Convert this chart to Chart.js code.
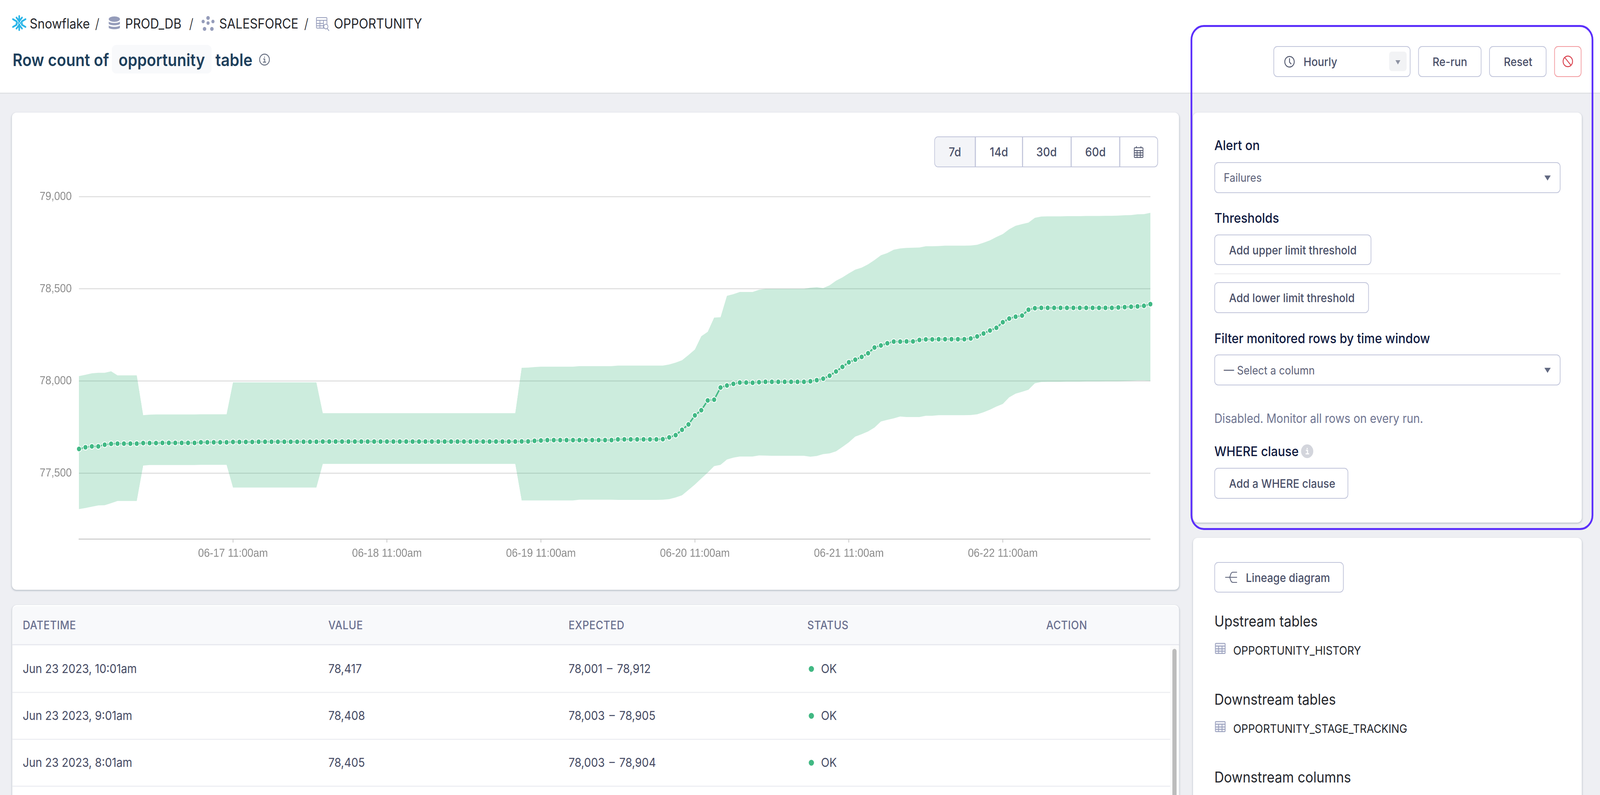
<!DOCTYPE html>
<html><head><meta charset="utf-8">
<script src="https://cdn.jsdelivr.net/npm/chart.js@4"></script>
<style>
html,body{margin:0;padding:0;width:100%;height:100%;overflow:hidden;background:#eeeff3;font-family:Inter,sans-serif;}
#page{position:absolute;left:0;top:0;width:4576px;height:2034px;overflow:hidden;transform-origin:0 0;background:#eeeff3;}
.a{position:absolute;box-sizing:border-box;}
.t{position:absolute;white-space:nowrap;transform:translateY(-50%);line-height:1.2;}
.btn{position:absolute;box-sizing:border-box;background:#fff;border:2.5px solid #c0c4da;border-radius:11px;}
.bc{font-size:35px;color:#25262b;}
.lab{font-size:34.5px;font-weight:500;color:#101a3f;}
.bt{font-size:30.3px;font-weight:500;color:#4a5069;}
.sel{font-size:29.5px;color:#5c6178;}
.h{font-size:38.2px;color:#24262c;}
.up{font-size:30.4px;color:#24262c;}
.th{font-size:29.5px;font-weight:500;color:#6a7090;letter-spacing:.6px;}
.td{font-size:31.5px;color:#454a63;}
.card{position:absolute;box-sizing:border-box;background:#fff;border-radius:13px;box-shadow:0 2px 5px rgba(60,80,100,.35);}
.tri{position:absolute;width:0;height:0;border-left:9px solid transparent;border-right:9px solid transparent;border-top:13px solid #636a82;}
svg{position:absolute;overflow:visible;}
</style></head><body><div id="page">
<!-- header -->
<div class="a" style="left:0;top:0;width:4576px;height:240px;background:#fff;border-bottom:3px solid #e1e2e5;"></div>
<svg style="left:34px;top:38px" width="42" height="42" viewBox="0 0 42 42" fill="none" stroke="#29b5e8" stroke-width="4.5" stroke-linecap="round"><path d="M21 3V15M13 7l8 9 8-9M21 39V27M13 35l8-9 8 9M3 11l11 6-1 7M39 11l-11 6 1 7M3 31l11-6M39 31l-11-6"/><path d="M21 17l4 4-4 4-4-4z" stroke-width="2.5"/></svg>
<div class="t bc" style="left:85px;top:60px">Snowflake</div>
<div class="t bc" style="left:272px;top:60px;font-weight:300">/</div>
<svg style="left:311px;top:42px" width="32" height="36" viewBox="0 0 32 36" fill="#959cba"><ellipse cx="16" cy="7" rx="16" ry="7"/><path d="M0 13c4 5 28 5 32 0v6c-4 5-28 5-32 0zM0 23c4 5 28 5 32 0v6c-4 5-28 5-32 0z"/></svg>
<div class="t bc" style="left:358px;top:60px">PROD_DB</div>
<div class="t bc" style="left:541px;top:60px;font-weight:300">/</div>
<svg style="left:576px;top:40px" width="38" height="40" viewBox="0 0 38 40" fill="#959cba"><circle cx="19" cy="6" r="5"/><circle cx="5" cy="15" r="4.5"/><circle cx="33" cy="15" r="4.5"/><circle cx="19" cy="19" r="4.5"/><circle cx="9" cy="34" r="5"/><circle cx="30" cy="34" r="5"/></svg>
<div class="t bc" style="left:627px;top:60px">SALESFORCE</div>
<div class="t bc" style="left:870px;top:60px;font-weight:300">/</div>
<svg style="left:904px;top:44px" width="40" height="36" viewBox="0 0 40 36" fill="none" stroke="#959cba" stroke-width="2"><rect x="1" y="1" width="30" height="27" rx="2"/><path d="M1 8H31M1 16H22M1 22H22M11 8V28M21 8V28"/><circle cx="28" cy="24" r="6" fill="#fff"/><path d="M32 29l5 6"/></svg>
<div class="t bc" style="left:955px;top:60px">OPPORTUNITY</div>
<div class="a" style="left:320px;top:115px;width:285px;height:73px;background:#f8f9fb;border-radius:12px;"></div>
<div class="t" style="left:36px;top:153px;font-size:43.5px;font-weight:600;color:#1d3f5c">Row count of</div>
<div class="t" style="left:339px;top:153px;font-size:43.5px;font-weight:600;color:#1d3f5c">opportunity</div>
<div class="t" style="left:616px;top:153px;font-size:44px;font-weight:600;color:#1d3f5c">table</div>
<svg style="left:741px;top:137px" width="31" height="31" viewBox="0 0 31 31" fill="none" stroke="#6a7284" stroke-width="2.5"><circle cx="15.5" cy="15.5" r="14"/><path d="M12 14h4v8M11 22h9M15.5 8v2.5"/></svg>

<!-- header controls -->
<div class="btn" style="left:3642px;top:118px;width:392px;height:79px;"></div>
<svg style="left:3673px;top:143px" width="30" height="30" viewBox="0 0 30 30" fill="none" stroke="#545a70" stroke-width="2.5"><circle cx="15" cy="15" r="13.5"/><path d="M15 6v10l5 5"/></svg>
<div class="t bt" style="left:3728px;top:158px;">Hourly</div>
<div class="a" style="left:3973px;top:132px;width:50px;height:50px;background:#f2f3f5;border-radius:8px;"></div>
<div class="tri" style="left:3991px;top:154px;border-left-width:7px;border-right-width:7px;border-top:11px solid #8d92a2"></div>
<div class="btn" style="left:4056px;top:118px;width:181px;height:79px;"></div>
<div class="t bt" style="left:4097px;top:158px;">Re-run</div>
<div class="btn" style="left:4259px;top:118px;width:164px;height:79px;"></div>
<div class="t bt" style="left:4301px;top:158px;">Reset</div>
<div class="btn" style="left:4445px;top:118px;width:78px;height:79px;border-color:#f29a9f"></div>
<svg style="left:4469px;top:142px" width="30" height="30" viewBox="0 0 30 30" fill="none" stroke="#d9414d" stroke-width="2.5"><circle cx="15" cy="15" r="13.5"/><path d="M6 5l18 20"/></svg>

<!-- chart card -->
<div class="card" style="left:34px;top:288px;width:3338px;height:1221px;"></div>
<div class="a" style="left:34px;top:460px;width:3338px;height:1040px;"><canvas id="c" width="3338" height="1040" style="display:block"></canvas></div>
<div class="btn" style="left:2672px;top:349px;width:640px;height:79px;overflow:hidden;"><div class="a" style="left:0;top:0;width:117px;height:79px;background:#f3f4f8"></div></div>
<div class="a" style="left:2788px;top:349px;width:2.5px;height:79px;background:#c0c4da"></div>
<div class="a" style="left:2923px;top:349px;width:2.5px;height:79px;background:#c0c4da"></div>
<div class="a" style="left:3062px;top:349px;width:2.5px;height:79px;background:#c0c4da"></div>
<div class="a" style="left:3201px;top:349px;width:2.5px;height:79px;background:#c0c4da"></div>
<div id="ranges"></div>
<svg style="left:3243px;top:373px" width="27" height="32" viewBox="0 0 27 32" fill="none" stroke="#4a5069" stroke-width="2"><rect x="1" y="5" width="25" height="25" rx="2"/><path d="M1 12H26M1 18H26M1 24H26M9 12V30M18 12V30M7 1V6M20 1V6"/></svg>

<!-- table card -->
<div class="card" style="left:35px;top:1548px;width:3337px;height:600px;"></div>
<div class="a" style="left:35px;top:1551px;width:3337px;height:100px;background:#f8f9fb;border-radius:13px 13px 0 0;border-bottom:3px solid #e8e9ef"></div>
<div id="tbl"></div>
<div class="a" style="left:3347px;top:1652px;width:25px;height:400px;background:#fbfbfb"></div>
<div class="a" style="left:3353px;top:1660px;width:12px;height:400px;background:#bcbcbc;border-radius:6px"></div>

<!-- config card -->
<div class="card" style="left:3412px;top:288px;width:1112px;height:1049px;"></div>
<div class="t lab" style="left:3473px;top:372px">Alert on</div>
<div class="btn" style="left:3473px;top:415px;width:990px;height:79px;"></div>
<div class="t sel" style="left:3500px;top:455px">Failures</div>
<div class="tri" style="left:4417px;top:449px"></div>
<div class="t lab" style="left:3473px;top:558px">Thresholds</div>
<div class="btn" style="left:3473px;top:600px;width:449px;height:78px;"></div>
<div class="t bt" style="left:3515px;top:640px">Add upper limit threshold</div>
<div class="a" style="left:3473px;top:699px;width:990px;height:3px;background:#f0f0f2"></div>
<div class="btn" style="left:3473px;top:722px;width:442px;height:79px;"></div>
<div class="t bt" style="left:3515px;top:762px">Add lower limit threshold</div>
<div class="t lab" style="left:3473px;top:866px">Filter monitored rows by time window</div>
<div class="btn" style="left:3473px;top:907px;width:990px;height:79px;"></div>
<div class="t sel" style="left:3500px;top:948px">— Select a column</div>
<div class="tri" style="left:4417px;top:941px"></div>
<div class="t" style="left:3473px;top:1071px;font-size:31.9px;color:#6f7591">Disabled. Monitor all rows on every run.</div>
<div class="t lab" style="left:3473px;top:1155px">WHERE clause</div>
<svg style="left:3721px;top:1137px" width="35" height="35" viewBox="0 0 35 35"><circle cx="17.5" cy="17.5" r="17.5" fill="#d3d5dc"/><path d="M14 15h4.5v9M13 24h10M17.5 9v3" stroke="#fff" stroke-width="3" fill="none"/></svg>
<div class="btn" style="left:3473px;top:1197px;width:383px;height:79px;"></div>
<div class="t bt" style="left:3515px;top:1237px">Add a WHERE clause</div>

<!-- lineage card -->
<div class="card" style="left:3412px;top:1376px;width:1112px;height:800px;"></div>
<div class="btn" style="left:3473px;top:1438px;width:370px;height:78px;"></div>
<svg style="left:3504px;top:1462px" width="35" height="30" viewBox="0 0 35 30" fill="none" stroke="#5a6078" stroke-width="2.2"><path d="M0 15H34M34 2H22q-4 0-6 5l-3 8 3 8q2 5 6 5H34"/></svg>
<div class="t bt" style="left:3563px;top:1478px">Lineage diagram</div>
<div class="t h" style="left:3473px;top:1590px">Upstream tables</div>
<svg style="left:3475px;top:1645px" width="30" height="28" viewBox="0 0 30 28" fill="#edeef5" stroke="#959cba" stroke-width="2"><rect x="1" y="1" width="28" height="26" rx="2"/><path d="M1 8H29M1 15H29M1 21H29M10 8V27M20 8V27" fill="none"/></svg>
<div class="t up" style="left:3527px;top:1664px">OPPORTUNITY_HISTORY</div>
<div class="t h" style="left:3473px;top:1790px">Downstream tables</div>
<svg style="left:3475px;top:1845px" width="30" height="28" viewBox="0 0 30 28" fill="#edeef5" stroke="#959cba" stroke-width="2"><rect x="1" y="1" width="28" height="26" rx="2"/><path d="M1 8H29M1 15H29M1 21H29M10 8V27M20 8V27" fill="none"/></svg>
<div class="t up" style="left:3527px;top:1864px">OPPORTUNITY_STAGE_TRACKING</div>
<div class="t h" style="left:3473px;top:1989px">Downstream columns</div>

<!-- highlight -->
<div class="a" style="left:3405px;top:64px;width:1152px;height:1292px;border:5.5px solid #5b2ffb;border-radius:38px;"></div>
</div>
<script>
document.getElementById('page').style.transform = 'scale(' + (window.innerWidth / 4576) + ',' + (window.innerHeight / 2034) + ')';
const days = ['06-16','06-17','06-18','06-19','06-20','06-21','06-22','06-23'];
const hours = ['12:00am','1:00am','2:00am','3:00am','4:00am','5:00am','6:00am','7:00am','8:00am','9:00am','10:00am','11:00am','12:00pm','1:00pm','2:00pm','3:00pm','4:00pm','5:00pm','6:00pm','7:00pm','8:00pm','9:00pm','10:00pm','11:00pm'];
const categories = days.flatMap(d => hours.map(h => d + ' ' + h)).slice(11, 179);
const xTickLabels = ['06-17 11:00am','06-18 11:00am','06-19 11:00am','06-20 11:00am','06-21 11:00am','06-22 11:00am'];
const yTickValues = [77500,78000,78500,79000];
const rowCount = [
77632,77641,77646,77646,77655,77660,77661,77661,77661,77661,
77664,77664,77664,77665,77665,77665,77665,77665,77665,77668,
77668,77668,77668,77668,77670,77670,77670,77670,77671,77671,
77671,77671,77671,77671,77671,77671,77671,77671,77672,77672,
77672,77672,77672,77672,77672,77672,77672,77672,77672,77672,
77672,77672,77672,77672,77672,77672,77672,77672,77672,77672,
77672,77672,77672,77672,77672,77672,77672,77672,77672,77673,
77673,77676,77678,77680,77680,77680,77680,77680,77680,77680,
77680,77680,77680,77680,77684,77684,77684,77684,77684,77684,
77684,77685,77695,77707,77736,77765,77814,77842,77895,77899,
77965,77976,77985,77992,77992,77991,77994,77996,77996,77996,
77996,77996,77996,77996,77999,78005,78013,78029,78052,78077,
78102,78116,78131,78151,78182,78193,78205,78214,78214,78215,
78215,78223,78226,78226,78227,78227,78227,78227,78227,78231,
78242,78258,78274,78289,78319,78339,78349,78355,78387,78395,
78397,78397,78397,78397,78397,78397,78397,78397,78397,78397,
78397,78397,78399,78401,78403,78405,78408,78417];
const upperBound = [
78027,78034,78042,78045,78045,78053,78031,78031,78031,78031,
77815,77818,77819,77819,77819,77819,77819,77819,77819,77820,
77820,77820,77820,77820,77993,77993,77993,77993,77993,77993,
77993,77993,77993,77993,77993,77993,77993,77993,77826,77826,
77826,77826,77826,77826,77826,77826,77826,77826,77826,77826,
77826,77826,77826,77826,77826,77826,77826,77826,77826,77826,
77826,77826,77826,77826,77826,77826,77826,77826,77826,78072,
78073,78076,78078,78078,78078,78078,78078,78078,78081,78081,
78081,78081,78081,78081,78084,78084,78084,78084,78084,78084,
78084,78084,78090,78100,78113,78141,78171,78243,78267,78344,
78346,78462,78471,78483,78483,78483,78495,78500,78500,78500,
78500,78500,78500,78500,78506,78509,78504,78519,78544,78562,
78584,78604,78615,78633,78656,78682,78694,78712,78719,78722,
78723,78724,78731,78731,78732,78734,78734,78734,78734,78735,
78739,78750,78763,78781,78797,78823,78842,78851,78859,78885,
78892,78893,78893,78893,78894,78894,78894,78895,78895,78895,
78896,78896,78897,78899,78900,78904,78905,78912];
const lowerBound = [
77306,77312,77319,77326,77327,77338,77350,77350,77350,77350,
77542,77545,77545,77545,77545,77545,77545,77545,77545,77546,
77546,77546,77546,77546,77423,77423,77423,77423,77423,77423,
77423,77423,77423,77423,77423,77423,77423,77423,77551,77551,
77551,77551,77551,77551,77551,77551,77551,77551,77551,77551,
77551,77551,77551,77551,77551,77551,77551,77551,77551,77551,
77551,77551,77551,77551,77551,77551,77551,77551,77551,77353,
77353,77353,77353,77353,77353,77353,77353,77353,77357,77357,
77357,77357,77357,77357,77356,77356,77356,77356,77356,77356,
77356,77357,77360,77369,77381,77410,77439,77472,77504,77539,
77546,77575,77585,77591,77591,77591,77597,77596,77595,77595,
77595,77595,77595,77595,77590,77594,77604,77608,77619,77643,
77668,77699,77712,77727,77748,77781,77790,77798,77808,77805,
77805,77805,77812,77812,77815,77815,77815,77815,77815,77816,
77820,77831,77845,77862,77876,77912,77932,77942,77953,77988,
77995,77996,77996,77996,77997,77997,77997,77998,77998,77998,
77999,77999,77999,78000,78001,78003,78003,78001];
const rangeLabels = ['7d','14d','30d','60d'];
const tableHead = ['DATETIME','VALUE','EXPECTED','STATUS','ACTION'];
const tableDates = ['Jun 23 2023, 10:01am','Jun 23 2023, 9:01am','Jun 23 2023, 8:01am'];
const tableValues = ['78,417','78,408','78,405'];
const tableExpected = ['78,001 – 78,912','78,003 – 78,905','78,003 – 78,904'];
const tableStatus = ['OK','OK','OK'];

const mk = (parent, cls, css, txt) => { const d = document.createElement('div'); d.className = cls; d.style.cssText = css; if (txt !== undefined) d.textContent = txt; parent.appendChild(d); return d; };
const rangeCenters = [2731,2857,2993,3133];
const rg = document.getElementById('ranges');
rangeLabels.forEach((l,i) => mk(rg,'t bt',`left:${rangeCenters[i]}px;top:389px;transform:translate(-50%,-50%);font-size:31px`,l));
const tb = document.getElementById('tbl');
const cols = [65,939,1626,2309,2992];
tableHead.forEach((l,i) => mk(tb,'t th',`left:${cols[i]}px;top:1600px`,l));
tableDates.forEach((d,r) => {
  const y = 1711 + r*120;
  mk(tb,'t td',`left:${cols[0]}px;top:${y}px`,d);
  mk(tb,'t td',`left:${cols[1]}px;top:${y}px`,tableValues[r]);
  mk(tb,'t td',`left:${cols[2]}px;top:${y}px;word-spacing:4px`,tableExpected[r]);
  mk(tb,'a',`left:2313px;top:${y-7}px;width:15px;height:15px;border-radius:50%;background:#41b883`);
  mk(tb,'t td',`left:2348px;top:${y}px`,tableStatus[r]);
  mk(tb,'a',`left:35px;top:${1770+r*120}px;width:3312px;height:3px;background:#eeeff3`);
});

const green = '#41b985';
new Chart(document.getElementById('c'), {
  type: 'line',
  data: { labels: categories, datasets: [
    { label:'Row count', data: rowCount, borderColor: green, borderWidth: 4, backgroundColor: green, pointBackgroundColor: green,
      pointBorderColor:'#fff', pointBorderWidth: 2, pointRadius: 7, tension: 0, fill:false, clip:false, order:0 },
    { label:'Expected upper', data: upperBound, borderWidth:0, pointRadius:0, fill:'+1', backgroundColor:'rgba(65,185,131,0.27)', tension:0, order:1 },
    { label:'Expected lower', data: lowerBound, borderWidth:0, pointRadius:0, fill:false, tension:0, order:2 }
  ]},
  options: {
    responsive:false, animation:false, devicePixelRatio:2,
    layout:{ padding:{ top:43, right:82, left:0, bottom:0 } },
    plugins:{ legend:{display:false}, tooltip:{enabled:false} },
    scales:{
      x:{ type:'category', offset:false,
        afterFit: s => { s.height = 121; },
        afterBuildTicks: s => { s.ticks = xTickLabels.map(l => ({ value: categories.indexOf(l), label: l })); },
        grid:{ drawOnChartArea:false, drawTicks:true, tickLength:9, tickWidth:2.5, tickColor:'#cfcfcf' },
        border:{ display:true, color:'#c8c8c8', width:2.5 },
        ticks:{ autoSkip:false, maxRotation:0, minRotation:0, padding:10, color:'#8c8c8c', font:{ family:'"Liberation Sans"', size:30 },
          callback: function(v){ return categories[v]; } }
      },
      y:{ min:77144, max:79000,
        afterFit: s => { s.width = 192; },
        afterBuildTicks: s => { s.ticks = yTickValues.map(v => ({ value:v })); },
        grid:{ color:'#dcdcdc', lineWidth:2.5, drawTicks:false },
        border:{ display:false },
        ticks:{ padding:21, color:'#8c8c8c', font:{ family:'"Liberation Sans"', size:30 },
          callback: v => v.toLocaleString('en-US') }
      }
    }
  }
});
</script>
</body></html>
